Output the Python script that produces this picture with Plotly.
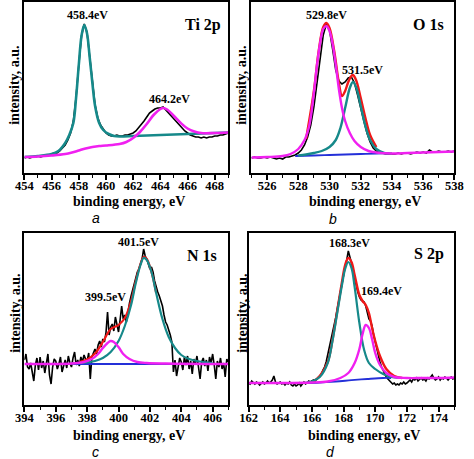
import plotly.graph_objects as go

# ---------------- data (heights, arbitrary units) ----------------
# Panel a : Ti 2p
a_start, a_step = 454.0, 0.2
a_data = [15, 16, 15, 16, 16, 17, 16, 17, 17, 18,
          19, 20, 20, 22, 25, 28, 33, 40, 52, 76,
          108, 137, 149, 141, 117, 90, 68, 55, 48, 44,
          40, 38, 37, 37, 38, 37, 37, 38, 38, 39,
          40, 42, 45, 49, 52, 56, 60, 62, 64, 65,
          65, 66, 63, 60, 57, 53, 50, 47, 44, 42,
          40, 38, 37, 36, 36, 35, 36, 35, 36, 36,
          37, 37, 38, 38, 39, 40]
a_teal_x = [454, 455, 456, 456.5, 457, 457.3, 457.6, 457.8, 458.0, 458.2, 458.4, 458.6, 458.8,
            459.0, 459.2, 459.5, 459.8, 460.2, 460.6, 461, 462, 463, 464, 465, 466, 467, 468, 469]
a_teal_y = [16, 17, 19, 22, 30, 38, 50, 75, 108, 137, 148, 140, 116,
            90, 67, 50, 43, 39, 37, 36.5, 37, 37.5, 38, 38.5, 39, 39.5, 40, 40.5]
a_pink_x = [454, 455, 456, 457, 457.5, 458, 458.5, 459, 459.5, 460, 461, 461.5, 462, 462.5, 463,
            463.5, 464, 464.2, 464.5, 465, 465.5, 466, 466.5, 467, 468, 469]
a_pink_y = [16, 16.5, 17.5, 19, 20.5, 22.5, 24.5, 26, 27, 27.5, 29, 31, 35, 41, 49,
            58, 64, 65, 63.5, 57, 50, 44.5, 41.5, 40, 40, 40.5]

# Panel b : O 1s
b_start, b_step = 525.0, 0.2
b_data = [15, 16, 15, 15, 16, 15, 16, 15, 14, 15,
          14, 16, 16, 17, 18, 20, 23, 28, 36, 48,
          66, 90, 116, 138, 149, 143, 124, 103, 92, 89,
          91, 95, 96, 90, 78, 64, 52, 40, 31, 25,
          22, 21, 20, 19, 19, 19, 19, 20, 19, 20,
          20, 19, 20, 21, 20, 21, 20, 23, 21, 21,
          22, 21, 21, 22, 21, 22]
b_pink_x = [525, 526, 527, 527.5, 528, 528.4, 528.7, 529.0, 529.2, 529.4, 529.6, 529.8, 530.0,
            530.2, 530.4, 530.6, 530.8, 531.0, 531.3, 531.6, 532.0, 532.5, 533, 534, 535, 536, 537, 538]
b_pink_y = [15.5, 16, 17, 19, 24, 33, 47, 80, 108, 130, 144, 147, 142,
            129, 108, 84, 65, 52, 40, 32, 26, 22, 20.5, 19.5, 20, 20.5, 21, 21.5]
b_teal_x = [528, 528.5, 529, 529.5, 530, 530.4, 530.7, 531.0, 531.3, 531.5, 531.7, 532.0,
            532.3, 532.6, 533.0, 533.5, 534]
b_teal_y = [17.5, 18.5, 20, 22, 26, 33, 45, 65, 85, 91, 86, 67, 47, 33, 24, 20, 19.5]
b_red_x = [528.5, 529.0, 529.3, 529.6, 529.8, 530.0, 530.3, 530.6, 530.8, 531.0, 531.2, 531.4,
           531.5, 531.7, 532.0, 532.3, 532.6, 533.0]
b_red_y = [34, 82, 121, 146, 150, 145, 122, 90, 77, 82, 91, 97, 98, 93, 75, 55, 38, 26]
b_blue_x = [527.8, 529, 530, 531, 532, 533, 533.8]
b_blue_y = [17, 17.5, 18, 18.5, 19, 19.5, 19.8]

# Panel c : N 1s
c_start, c_step = 394.0, 0.1
c_data = [45, 51, 38, 36, 42, 33, 24, 40, 47, 35,
          48, 37, 44, 32, 40, 51, 30, 21, 38, 46,
          44, 36, 41, 48, 33, 39, 45, 37, 49, 42,
          38, 47, 53, 40, 45, 39, 48, 43, 50, 46,
          44, 52, 26, 48, 53, 56, 51, 60, 64, 58,
          66, 63, 72, 93, 70, 78, 81, 74, 88, 80,
          73, 85, 99, 86, 90, 83, 95, 102, 109, 115,
          123, 128, 133, 136, 142, 146, 156, 149, 146, 140,
          136, 138, 133, 124, 118, 113, 109, 104, 99, 90,
          83, 80, 76, 70, 63, 33, 45, 29, 38, 47,
          43, 35, 48, 40, 49, 36, 44, 31, 46, 41,
          49, 38, 26, 43, 47, 39, 45, 34, 48, 42,
          51, 40, 26, 44, 38, 47, 36, 42, 28, 46,
          43]
c_teal_x = [397, 398, 398.5, 399, 399.5, 400, 400.4, 400.8, 401.1, 401.4, 401.6, 401.8,
            402.1, 402.4, 402.8, 403.2, 403.6, 404, 404.5, 405, 406]
c_teal_y = [41.5, 42.5, 44, 47, 53, 64, 79, 100, 122, 140, 147, 145,
            133, 112, 86, 68, 57, 50, 46, 44, 42]
c_pink_x = [394, 397, 397.8, 398.3, 398.7, 399.0, 399.3, 399.5, 399.7, 400.0, 400.3, 400.7,
            401.2, 401.8, 403, 407]
c_pink_y = [41, 41.5, 43, 46, 51, 57, 62, 64, 63, 58, 51, 46, 43, 42, 41.5, 41]
c_red_x = [397.5, 398, 398.5, 399, 399.5, 400, 400.4, 400.8, 401.1, 401.4, 401.6, 401.8, 402.1, 402.4]
c_red_y = [43, 45.5, 51.5, 63, 76, 80, 87, 104, 124, 141, 148, 146, 133, 112]
c_blue_x = [397, 405]
c_blue_y = [41, 41]

# Panel d : S 2p
d_start, d_step = 162.0, 0.1
d_data = [22, 21, 24, 22, 21, 23, 22, 20, 22, 23,
          21, 22, 24, 22, 23, 25, 29, 23, 21, 22,
          23, 21, 22, 20, 22, 21, 23, 20, 19, 21,
          19, 20, 22, 19, 21, 23, 21, 22, 24, 23,
          24, 25, 24, 26, 27, 29, 31, 35, 38, 43,
          50, 56, 63, 70, 78, 87, 96, 105, 114, 122,
          130, 138, 145, 154, 148, 143, 136, 127, 119, 113,
          108, 105, 104, 103, 99, 93, 86, 84, 79, 70,
          63, 55, 49, 43, 38, 34, 31, 28, 26, 24,
          22, 21, 22, 20, 21, 20, 22, 21, 23, 21,
          22, 24, 25, 23, 26, 25, 27, 24, 26, 27,
          25, 26, 24, 27, 26, 28, 30, 27, 25, 26,
          28, 25, 27, 26, 28, 27, 25, 27, 28, 26,
          27]
d_teal_x = [165.5, 166, 166.5, 167, 167.3, 167.6, 167.9, 168.1, 168.3, 168.5, 168.7, 169.0,
            169.3, 169.6, 170.0, 170.5, 171.0, 171.5]
d_teal_y = [22, 23.5, 28, 42, 64, 92, 120, 136, 143, 137, 118, 82, 55, 42, 36, 31, 28, 27]
d_pink_x = [162, 164, 166, 167, 167.8, 168.3, 168.7, 169.0, 169.2, 169.4, 169.6, 169.8, 170.0,
            170.3, 170.7, 171.2, 172, 173, 174, 175]
d_pink_y = [22, 22, 22.5, 23.5, 27, 32, 42, 56, 71, 80, 77, 66, 52, 40, 32, 28, 27, 27, 27, 27.5]
d_red_x = [166, 166.5, 167, 167.3, 167.6, 167.9, 168.1, 168.3, 168.5, 168.7, 169.0, 169.2, 169.4,
           169.6, 169.8, 170.0, 170.3, 170.7, 171.2, 171.7]
d_red_y = [22.5, 29, 43, 65, 94, 123, 140, 147, 143, 130, 110, 104, 100, 92, 77, 64, 49, 36, 29, 27]
d_blue_x = [165.5, 166.5, 167.5, 168.5, 169.5, 170.5, 171.0]
d_blue_y = [22, 22.5, 23.5, 24.8, 26, 27, 27]

panel_ranges = {"a": (454, 469), "b": (525, 538), "c": (394, 407), "d": (162, 175)}
panel_ticks = {"a": [454, 456, 458, 460, 462, 464, 466, 468],
               "b": [526, 528, 530, 532, 534, 536, 538],
               "c": [394, 396, 398, 400, 402, 404, 406],
               "d": [162, 164, 166, 168, 170, 172, 174]}
panel_names = {"a": "Ti 2p", "b": "O 1s", "c": "N 1s", "d": "S 2p"}
peak_labels = {"a": ["458.4eV", "464.2eV"], "b": ["529.8eV", "531.5eV"],
               "c": ["401.5eV", "399.5eV"], "d": ["168.3eV", "169.4eV"]}

# ---------------- figure ----------------
W, H = 474, 459
def px(x): return x / W
def py(y): return 1 - y / H

TEAL = "#16898a"
PINK = "#f020f0"
RED = "#f01818"
BLUE = "#2430d8"
SERIF = "Liberation Serif"

fig = go.Figure()

def grid(start, step, n):
    return [round(start + step * i, 3) for i in range(n)]

def add(xs, ys, color, width, ax, shape="spline"):
    line = dict(color=color, width=width, shape=shape)
    if shape == "spline":
        line["smoothing"] = 1.0
    fig.add_trace(go.Scatter(x=xs, y=ys, mode="lines", line=line,
                             xaxis="x" + ax, yaxis="y" + ax, showlegend=False, hoverinfo="skip"))

# panel a
add(grid(a_start, a_step, len(a_data)), a_data, "black", 1.6, "", "linear")
add(a_teal_x, a_teal_y, TEAL, 2.6, "")
add(a_pink_x, a_pink_y, PINK, 2.6, "")
# panel b
add(grid(b_start, b_step, len(b_data)), b_data, "black", 1.6, "2", "linear")
add(b_blue_x, b_blue_y, BLUE, 1.8, "2")
add(b_red_x, b_red_y, RED, 2.4, "2")
add(b_teal_x, b_teal_y, TEAL, 2.4, "2")
add(b_pink_x, b_pink_y, PINK, 2.4, "2")
# panel c
add(grid(c_start, c_step, len(c_data)), c_data, "black", 1.6, "3", "linear")
add(c_blue_x, c_blue_y, BLUE, 1.8, "3")
add(c_red_x, c_red_y, RED, 2.2, "3")
add(c_teal_x, c_teal_y, TEAL, 2.2, "3")
add(c_pink_x, c_pink_y, PINK, 2.4, "3")
# panel d
add(grid(d_start, d_step, len(d_data)), d_data, "black", 1.6, "4", "linear")
add(d_blue_x, d_blue_y, BLUE, 1.8, "4")
add(d_red_x, d_red_y, RED, 2.4, "4")
add(d_teal_x, d_teal_y, TEAL, 2.2, "4")
add(d_pink_x, d_pink_y, PINK, 2.4, "4")

# panel boxes in pixels: left, right, top, bottom
boxes = {"a": (16, 228, 2, 173), "b": (252, 463, 2, 173),
         "c": (16, 228, 233, 405), "d": (249, 463, 233, 405)}
suffix = {"a": "", "b": "2", "c": "3", "d": "4"}
layout = dict(width=W, height=H, margin=dict(l=0, r=0, t=0, b=0),
              paper_bgcolor="white", plot_bgcolor="white", showlegend=False)
for k, (l, r, t, b) in boxes.items():
    s = suffix[k]
    layout["xaxis" + s] = dict(domain=[px(l), px(r)], range=list(panel_ranges[k]),
                               anchor="y" + s, tickvals=panel_ticks[k],
                               ticks="outside", ticklen=5, tickwidth=1.5, tickcolor="black",
                               ticklabelstandoff=-5,
                               minor=dict(ticks="outside", ticklen=3, tickwidth=1.2, tickcolor="black",
                                          dtick=1, tick0=panel_ranges[k][0]),
                               showline=True, mirror=True, linecolor="black", linewidth=1.8,
                               showgrid=False, zeroline=False,
                               tickfont=dict(family=SERIF, size=12.5, color="black", weight="bold"))
    layout["yaxis" + s] = dict(domain=[py(b), py(t)], range=[0, b - t], anchor="x" + s,
                               showticklabels=False, ticks="", showline=True, mirror=True,
                               linecolor="black", linewidth=1.8, showgrid=False, zeroline=False)

ann = []
def text(x, y, s, size=12, family=SERIF, weight="bold", style="normal", angle=0):
    ann.append(dict(x=px(x), y=py(y), xref="paper", yref="paper", text=s, showarrow=False,
                    xanchor="center", yanchor="middle", textangle=angle,
                    font=dict(family=family, size=size, color="black", weight=weight, style=style)))

text(82, 15, peak_labels["a"][0]); text(167, 99, peak_labels["a"][1])
text(330, 15, peak_labels["b"][0]); text(367, 70, peak_labels["b"][1])
text(135, 242, peak_labels["c"][0]); text(100, 297, peak_labels["c"][1])
text(354, 243, peak_labels["d"][0]); text(387, 291, peak_labels["d"][1])
text(202, 25, panel_names["a"], 16); text(436, 25, panel_names["b"], 16)
text(201, 255, panel_names["c"], 16); text(437, 254, panel_names["d"], 16)
for cx, cy in [(125, 201), (370, 201), (125, 435), (369, 435)]:
    text(cx, cy, "binding energy, eV", 14)
for cx, cy in [(6, 85), (242, 85), (6, 313), (242, 313)]:
    text(cx, cy, "intensity, a.u.", 14, angle=-90)
for cx, cy, s in [(90, 218, "a"), (337, 219, "b"), (90, 452, "c"), (334, 452, "d")]:
    text(cx, cy, s, 14, family="Liberation Sans", weight="normal", style="italic")
layout["annotations"] = ann

fig.update_layout(**layout)
fig.write_html("out.html")
